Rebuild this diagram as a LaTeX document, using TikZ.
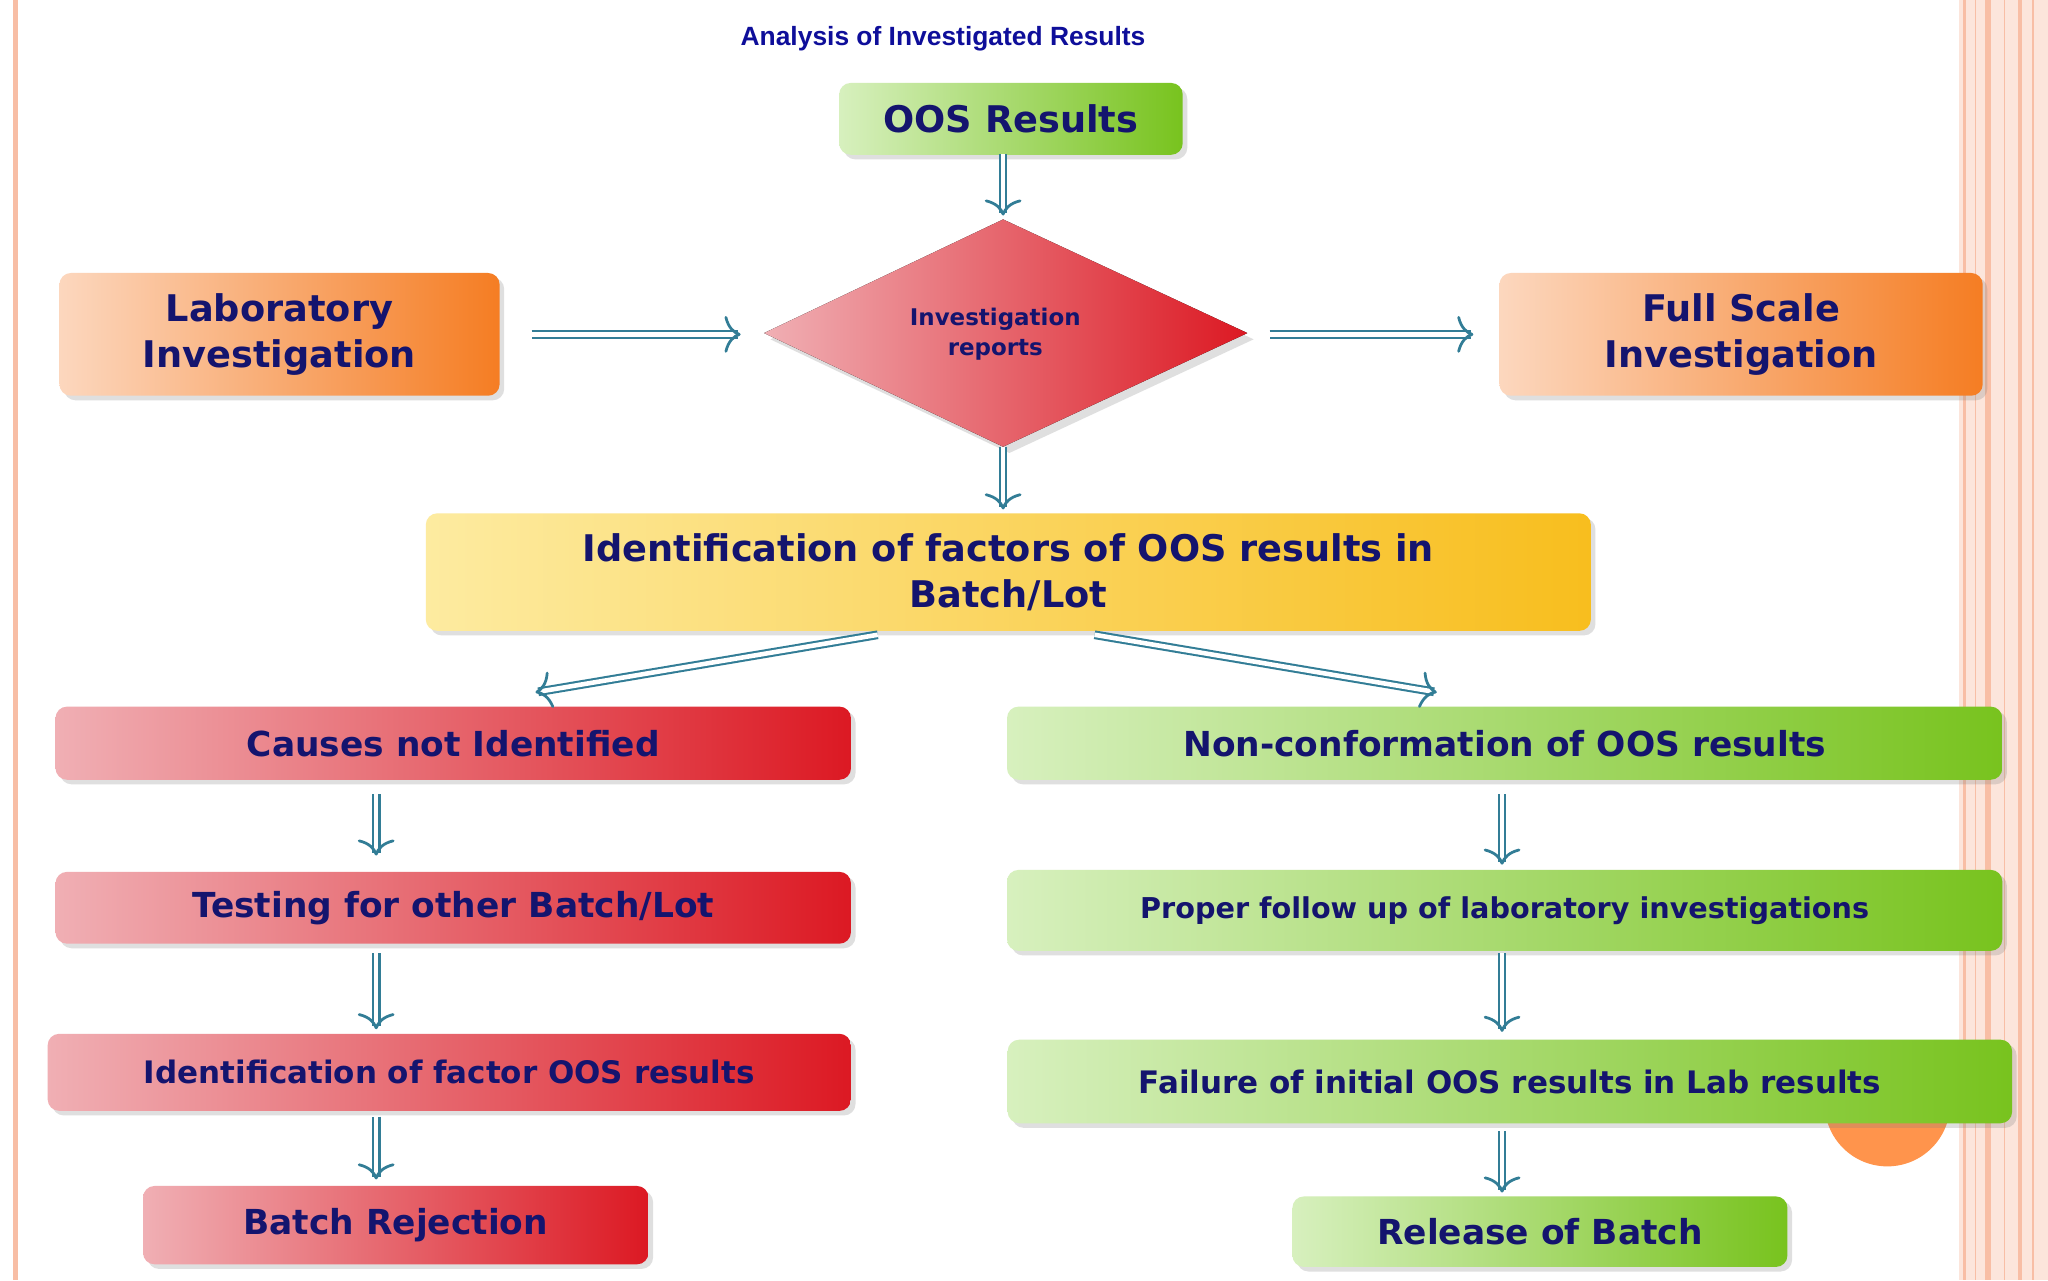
\documentclass[tikz,border=0pt]{standalone}
\usepackage{fontspec}
\setmainfont{DejaVu Sans}
\newfontfamily\titlefont{Liberation Sans}
\usetikzlibrary{shapes.geometric,arrows.meta,shadows}
\definecolor{navy}{RGB}{20,20,110}
\definecolor{teal}{RGB}{50,125,150}
\definecolor{gL}{RGB}{215,240,190}\definecolor{gR}{RGB}{120,195,30}
\definecolor{oL}{RGB}{252,215,190}\definecolor{oR}{RGB}{245,125,35}
\definecolor{rL}{RGB}{240,175,180}\definecolor{rR}{RGB}{220,25,35}
\definecolor{yL}{RGB}{253,235,160}\definecolor{yR}{RGB}{248,190,30}
\definecolor{salmon}{RGB}{248,190,165}
\begin{document}
\begin{tikzpicture}[x=0.02cm,y=-0.02cm,
 box/.style={draw=none,rounded corners=5pt,minimum width=#1*0.02cm,align=center,text=navy,font=\bfseries,drop shadow={opacity=0.25,shadow xshift=2pt,shadow yshift=-2pt}},
 grn/.style={left color=gL,right color=gR},
 org/.style={left color=oL,right color=oR},
 rd/.style={left color=rL,right color=rR},
 yel/.style={left color=yL,right color=yR},
 arr/.style={draw=teal,double,double distance=2pt,line width=0.9pt,-{To[length=7pt,width=16pt,line width=1.2pt]}}]
\useasboundingbox (0,0) rectangle (1568,980);
\fill[white] (0,0) rectangle (1568,980);
% decorations
\fill[salmon!40] (1500,0) rectangle (1568,980);
\foreach \x/\w in {1503/2,1512/1,1520/4,1534/1,1545/3,1556/1}{\fill[salmon] (\x,0) rectangle (\x+\w,980);}
\fill[salmon] (10,0) rectangle (14,980);
\fill[orange!80!red!70] (1445,845) circle (48);
\node[font=\titlefont\bfseries\fontsize{11.5}{13}\selectfont,text=navy!70!blue] (title) at (722,30) {Analysis of Investigated Results};
\node[box=263,grn,minimum height=1.1cm,font=\bfseries\fontsize{16}{18}\selectfont] (oos) at (774,91) {OOS Results};
\node[box=337,org,minimum height=1.88cm,font=\bfseries\fontsize{16}{20}\selectfont] (lab) at (214,256) {Laboratory\\Investigation};
\node[box=370,org,minimum height=1.88cm,font=\bfseries\fontsize{16}{20}\selectfont] (full) at (1333,256) {Full Scale\\Investigation};
\fill[left color=rL,right color=rR,drop shadow={opacity=0.25}] (585,255) coordinate (dl) -- (768,168) coordinate (dt) -- (955,255) coordinate (dr) -- (768,342) coordinate (db) -- cycle;
\node[text=navy,font=\bfseries\fontsize{10}{13}\selectfont,align=center] (diam) at (762,256) {Investigation\\reports};
\node[box=892,yel,minimum height=1.8cm,font=\bfseries\fontsize{16}{20}\selectfont] (ident) at (772,438) {Identification of factors of OOS results in\\Batch/Lot};
\node[box=609,rd,minimum height=1.12cm,font=\bfseries\fontsize{15}{18}\selectfont] (cause) at (347,569) {Causes not Identified};
\node[box=609,rd,minimum height=1.1cm,font=\bfseries\fontsize{15}{18}\selectfont] (test) at (347,695) {Testing for other Batch/Lot};
\node[box=615,rd,minimum height=1.18cm,font=\bfseries\fontsize{13.5}{16}\selectfont] (fact) at (344,821) {Identification of factor OOS results};
\node[box=387,rd,minimum height=1.2cm,font=\bfseries\fontsize{15}{18}\selectfont] (rej) at (303,938) {Batch Rejection};
\node[box=762,grn,minimum height=1.12cm,font=\bfseries\fontsize{15}{18}\selectfont] (non) at (1152,569) {Non-conformation of OOS results};
\node[box=762,grn,minimum height=1.24cm,font=\bfseries\fontsize{12.5}{15}\selectfont] (prop) at (1152,697) {Proper follow up of laboratory investigations};
\node[box=769,grn,minimum height=1.28cm,font=\bfseries\fontsize{13.5}{16}\selectfont] (fail) at (1156,828) {Failure of initial OOS results in Lab results};
\node[box=379,grn,minimum height=1.08cm,font=\bfseries\fontsize{15}{18}\selectfont] (rel) at (1179,943) {Release of Batch};
% arrows
\coordinate (a1) at (768,118); \coordinate (a2) at (768,165);
\coordinate (b1) at (768,342); \coordinate (b2) at (768,390);
\coordinate (c1) at (407,256); \coordinate (c2) at (567,256);
\coordinate (d1) at (972,256); \coordinate (d2) at (1128,256);
\coordinate (e1) at (672,486); \coordinate (e2) at (410,530);
\coordinate (f1) at (838,486); \coordinate (f2) at (1100,530);
\draw[arr] (a1) -- (a2);
\draw[arr] (b1) -- (b2);
\draw[arr] (c1) -- (c2);
\draw[arr] (d1) -- (d2);
\draw[arr] (e1) -- (e2);
\draw[arr] (f1) -- (f2);
\draw[arr] (288,608) coordinate (g1) -- (288,655) coordinate (g2);
\draw[arr] (288,730) coordinate (h1) -- (288,788) coordinate (h2);
\draw[arr] (288,855) coordinate (i1) -- (288,903) coordinate (i2);
\draw[arr] (1150,608) coordinate (j1) -- (1150,662) coordinate (j2);
\draw[arr] (1150,730) coordinate (k1) -- (1150,790) coordinate (k2);
\draw[arr] (1150,866) coordinate (l1) -- (1150,913) coordinate (l2);
\end{tikzpicture}
\end{document}
